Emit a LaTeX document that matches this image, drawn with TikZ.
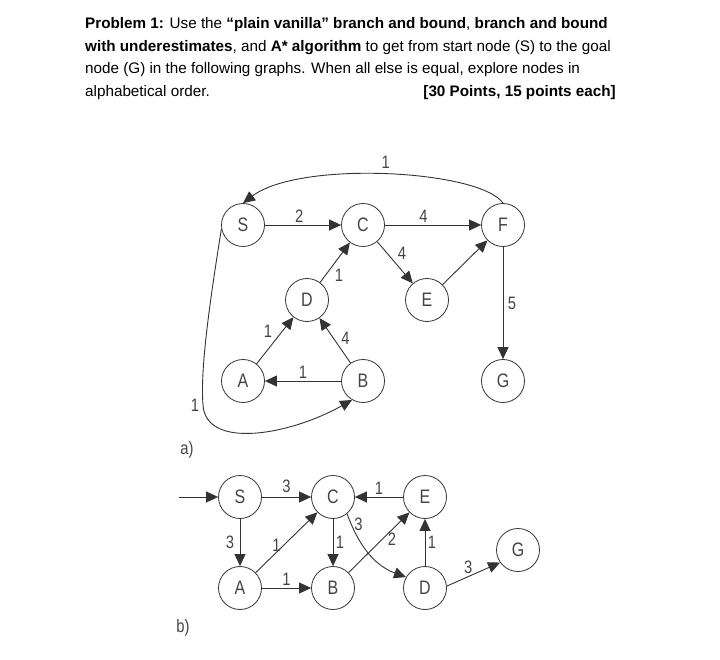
\documentclass[tikz,border=0pt]{standalone}
\usepackage{fontspec}
\setmainfont{Liberation Sans}
\newfontfamily\graphfont[FakeStretch=0.82]{Liberation Sans}
\usetikzlibrary{arrows.meta}
\definecolor{linegray}{HTML}{333333}
\definecolor{textgray}{HTML}{444444}

\begin{document}
\begin{tikzpicture}[x=1pt,y=-1pt,
    vtx/.style={draw=linegray,circle,minimum size=43pt,inner sep=0pt,line width=0.8pt,
                font=\graphfont\fontsize{19.5}{19.5}\selectfont,text=textgray},
    arr/.style={-{Triangle[length=12pt,width=11pt]},linegray,line width=0.9pt},
    lbl/.style={font=\graphfont\fontsize{18}{18}\selectfont,text=textgray,inner sep=2.5pt},
    txt/.style={anchor=base west,inner sep=0pt,font=\fontsize{15.25}{18}\selectfont}
  ]
    \useasboundingbox (0,0) rectangle (720,660);
    % problem statement
    \node[txt] (line1) at (85,29) {\textbf{Problem 1:} Use the \textbf{“plain vanilla” branch and bound}, \textbf{branch and bound}};
    \node[txt] (line2) at (85,51.5) {\textbf{with underestimates}, and \textbf{A* algorithm} to get from start node (S) to the goal};
    \node[txt] (line3) at (85,74) {node (G) in the following graphs. When all else is equal, explore nodes in};
    \node[txt] (line4) at (85,96.5) {alphabetical order.};
    \node[txt,anchor=base east] (pts) at (616,96.5) {\textbf{[30 Points, 15 points each]}};

    % graph a)
    \node[vtx] (S) at (243,225) {S};
    \node[vtx] (C) at (363,225) {C};
    \node[vtx] (F) at (503,225) {F};
    \node[vtx] (D) at (307,300) {D};
    \node[vtx] (E) at (427,300) {E};
    \node[vtx] (A) at (243,381) {A};
    \node[vtx] (B) at (363,381) {B};
    \node[vtx] (G) at (503,381) {G};
    \node[lbl] (capa) at (187,450) {a)};
    \draw[arr] (S) -- node[lbl,above,pos=0.45] {2} (C);
    \draw[arr] (C) -- node[lbl,above,pos=0.4] {4} (F);
    \draw[arr] (C) -- node[lbl,above right] {4} (E);
    \draw[arr] (D) -- node[lbl,below right,pos=0.4] {1} (C);
    \draw[arr] (E) -- (F);
    \draw[arr] (F) -- node[lbl,right=2pt] {5} (G);
    \draw[arr] (A) -- node[lbl,above left] {1} (D);
    \draw[arr] (B) -- node[lbl,right=5pt,pos=0.55] {4} (D);
    \draw[arr] (B) -- node[lbl,above] {1} (A);
    \draw[arr] (F.north) .. controls (480,170) and (300,160) .. node[lbl,above=3pt] {1} (S.north);
    \draw[arr] (S.190) .. controls (210,300) and (200,370) .. (203,405) node[lbl,left=1pt] {1}
      .. controls (206,450) and (290,435) .. (B.240);

    % graph b)
    \node[vtx] (bS) at (240,497) {S};
    \node[vtx] (bC) at (333,497) {C};
    \node[vtx] (bE) at (425,497) {E};
    \node[vtx] (bA) at (240,588) {A};
    \node[vtx] (bB) at (333,588) {B};
    \node[vtx] (bD) at (425,588) {D};
    \node[vtx] (bG) at (518,550) {G};
    \coordinate (bin) at (179,497);
    \node[lbl] (capb) at (183,628) {b)};
    \draw[arr] (bin) -- (bS);
    \draw[arr] (bS) -- node[lbl,above=1pt] {3} (bC);
    \draw[arr] (bS) -- node[lbl,left=3pt] {3} (bA);
    \draw[arr] (bA) -- node[lbl,left,pos=0.45] {1} (bC);
    \draw[arr] (bA) -- node[lbl,above] {1} (bB);
    \draw[arr] (bC) -- node[lbl,right] {1} (bB);
    \draw[arr] (bC.-50) to[out=-70,in=160] node[lbl,right,pos=0.12] {3} (bD.150);
    \draw[arr] (bB) -- node[lbl,right=3pt,pos=0.55] {2} (bE);
    \draw[arr] (bE) -- node[lbl,above] {1} (bC);
    \draw[arr] (bD) -- node[lbl,right] {1} (bE);
    \draw[arr] (bD.5) -- node[lbl,above,pos=0.4] {3} (bG.215);
  \end{tikzpicture}
\end{document}
